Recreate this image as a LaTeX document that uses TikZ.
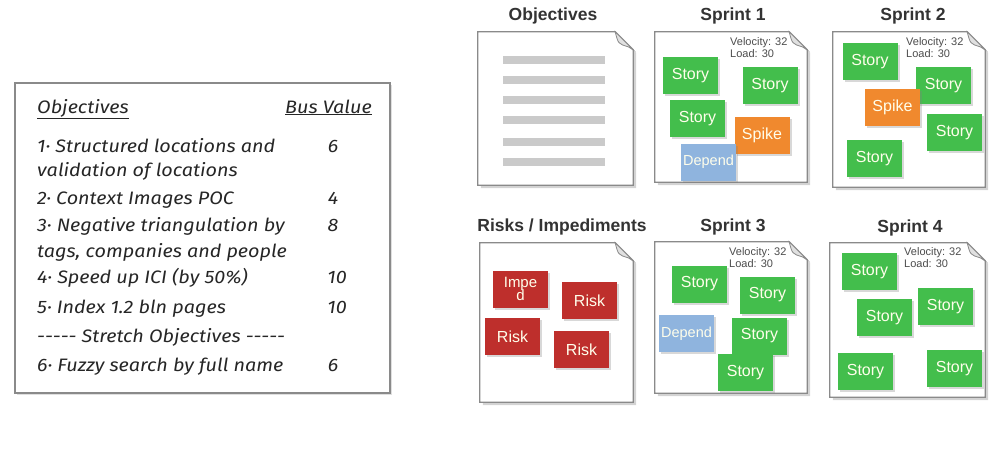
\documentclass[tikz,border=0pt]{standalone}
\usepackage{fontspec}
\setmainfont{Liberation Sans}
\newfontfamily\handfont[FakeStretch=1.1]{Fira Sans}
\usetikzlibrary{shadows}
\definecolor{storygreen}{HTML}{43BE4C}
\definecolor{spikeorange}{HTML}{F0892E}
\definecolor{dependblue}{HTML}{8FB4DE}
\definecolor{riskred}{HTML}{BE2F2C}
\definecolor{pageline}{HTML}{8A8A8A}
\definecolor{barcol}{HTML}{CACACA}
\definecolor{titlecol}{HTML}{333333}
\newcommand\docpage[1]{%
  \draw[pagestyle] (#1.north west) -- ([xshift=-18pt]#1.north east) -- ([yshift=-18pt]#1.north east) -- (#1.south east) -- (#1.south west) -- cycle;
  \draw[foldstyle] ([xshift=-18pt]#1.north east) .. controls ([xshift=-15pt,yshift=-12pt]#1.north east) .. ([xshift=-5pt,yshift=-15pt]#1.north east) -- ([yshift=-18pt]#1.north east) -- cycle;
}
\begin{document}
\begin{tikzpicture}[x=1pt,y=-1pt,
  hand/.style={font=\handfont\itshape\fontsize{18}{21}\selectfont, text=black!85, inner sep=0pt},
  listbox/.style={draw=pageline, line width=1.2pt, fill=white, drop shadow={opacity=0.25, shadow xshift=2pt, shadow yshift=-2pt}, inner sep=0pt},
  docbox/.style={inner sep=0pt},
  pagestyle/.style={draw=pageline, line width=1.3pt, fill=white, drop shadow={opacity=0.35, shadow xshift=3pt, shadow yshift=-3pt}},
  foldstyle/.style={draw=pageline, line width=0.8pt, fill=black!12},
  doctitle/.style={font=\bfseries\fontsize{17.5}{20}\selectfont, text=titlecol, inner sep=0pt},
  bar/.style={fill=barcol, draw=none, minimum width=102pt, minimum height=8pt, inner sep=0pt},
  card/.style={minimum width=55pt, minimum height=37pt, inner sep=0pt, font=\fontsize{16}{16}\selectfont, text=white!92!yellow, drop shadow={opacity=0.3, shadow xshift=2pt, shadow yshift=-2pt}},
  story/.style={card, fill=storygreen},
  spike/.style={card, fill=spikeorange},
  depend/.style={card, fill=dependblue, font=\fontsize{14.5}{14.5}\selectfont},
  risk/.style={card, fill=riskred},
  velo/.style={font=\fontsize{11}{12.5}\selectfont, text=black!70, align=left, anchor=north west, inner sep=0pt}
]
\useasboundingbox (0,0) rectangle (1007,463);

% ---------- objectives list ----------
\node[listbox, minimum width=375pt, minimum height=310pt] (list) at (202.5,238) {};
\node[hand, anchor=base west] (hobj) at (37,113) {\underline{Objectives}};
\node[hand, anchor=base east] (hbv) at (372,113) {\underline{Bus Value}};
\node[hand, anchor=base west] (r1a) at (37,152) {1· Structured locations and};
\node[hand, anchor=base west] (r1b) at (37,176) {validation of locations};
\node[hand, anchor=base west] (r2) at (37,204) {2· Context Images POC};
\node[hand, anchor=base west] (r3a) at (37,231) {3· Negative triangulation by};
\node[hand, anchor=base west] (r3b) at (37,257) {tags, companies and people};
\node[hand, anchor=base west] (r4) at (37,283) {4· Speed up ICI (by 50\%)};
\node[hand, anchor=base west] (r5) at (37,313) {5· Index 1.2 bln pages};
\node[hand, anchor=base west] (rs) at (37,342) {----- Stretch Objectives -----};
\node[hand, anchor=base west] (r6) at (37,371) {6· Fuzzy search by full name};
\node[hand, anchor=base] (v1) at (333,152) {6};
\node[hand, anchor=base] (v2) at (333,204) {4};
\node[hand, anchor=base] (v3) at (333,231) {8};
\node[hand, anchor=base] (v4) at (337,283) {10};
\node[hand, anchor=base] (v5) at (337,313) {10};
\node[hand, anchor=base] (v6) at (333,371) {6};

% ---------- document pages ----------
\node[docbox, minimum width=155pt, minimum height=153pt] (dobj) at (555.5,108.5) {};
\node[docbox, minimum width=152pt, minimum height=150pt] (ds1) at (731,107) {};
\node[docbox, minimum width=152pt, minimum height=155pt] (ds2) at (909,109.5) {};
\node[docbox, minimum width=153pt, minimum height=159pt] (drisk) at (556.5,322.5) {};
\node[docbox, minimum width=152pt, minimum height=151pt] (ds3) at (731,317.5) {};
\node[docbox, minimum width=155pt, minimum height=154pt] (ds4) at (907.5,320) {};
\docpage{dobj}
\docpage{ds1}
\docpage{ds2}
\docpage{drisk}
\docpage{ds3}
\docpage{ds4}

% titles
\node[doctitle] (tobj) at (553,16) {Objectives};
\node[doctitle] (ts1) at (733,16) {Sprint 1};
\node[doctitle] (ts2) at (913,16) {Sprint 2};
\node[doctitle] (trisk) at (562,227) {Risks / Impediments};
\node[doctitle] (ts3) at (733,227) {Sprint 3};
\node[doctitle] (ts4) at (910,228) {Sprint 4};

% objectives bars
\node[bar] (b1) at (554,60) {};
\node[bar] (b2) at (554,80) {};
\node[bar] (b3) at (554,100) {};
\node[bar] (b4) at (554,120) {};
\node[bar] (b5) at (554,142) {};
\node[bar] (b6) at (554,162) {};

% velocity labels
\node[velo] (vs1) at (730,37) {Velocity: 32\\Load: 30};
\node[velo] (vs2) at (906,37) {Velocity: 32\\Load: 30};
\node[velo] (vs3) at (729,247) {Velocity: 32\\Load: 30};
\node[velo] (vs4) at (904,247) {Velocity: 32\\Load: 30};

% sprint 1
\node[story] (s1a) at (690.5,75.5) {Story};
\node[story] (s1b) at (770,85.5) {Story};
\node[story] (s1c) at (697.5,118.5) {Story};
\node[spike] (s1d) at (762,135) {Spike};
\node[depend] (s1e) at (708.5,162) {Depend};

% sprint 2
\node[story] (s2a) at (870,61.5) {Story};
\node[story] (s2b) at (943.5,85.5) {Story};
\node[spike] (s2c) at (892.5,107.5) {Spike};
\node[story] (s2d) at (954.5,132.5) {Story};
\node[story] (s2e) at (874.5,158.5) {Story};

% risks
\node[risk, align=center, font=\fontsize{15}{15}\selectfont] (r1) at (520.5,289) {Impe\\[-2pt]d};
\node[risk] (rk2) at (589.5,300.5) {Risk};
\node[risk] (rk3) at (512.5,336.5) {Risk};
\node[risk] (rk4) at (581.5,349.5) {Risk};

% sprint 3
\node[story] (s3a) at (699.5,284) {Story};
\node[story] (s3b) at (767.5,295) {Story};
\node[depend] (s3c) at (686.5,333.5) {Depend};
\node[story] (s3d) at (759.5,336) {Story};
\node[story] (s3e) at (745.5,372.5) {Story};

% sprint 4
\node[story] (s4a) at (869.5,271.5) {Story};
\node[story] (s4b) at (884.5,317.5) {Story};
\node[story] (s4c) at (945.5,306.5) {Story};
\node[story] (s4d) at (865.5,371.5) {Story};
\node[story] (s4e) at (954.5,368.5) {Story};
\end{tikzpicture}
\end{document}
